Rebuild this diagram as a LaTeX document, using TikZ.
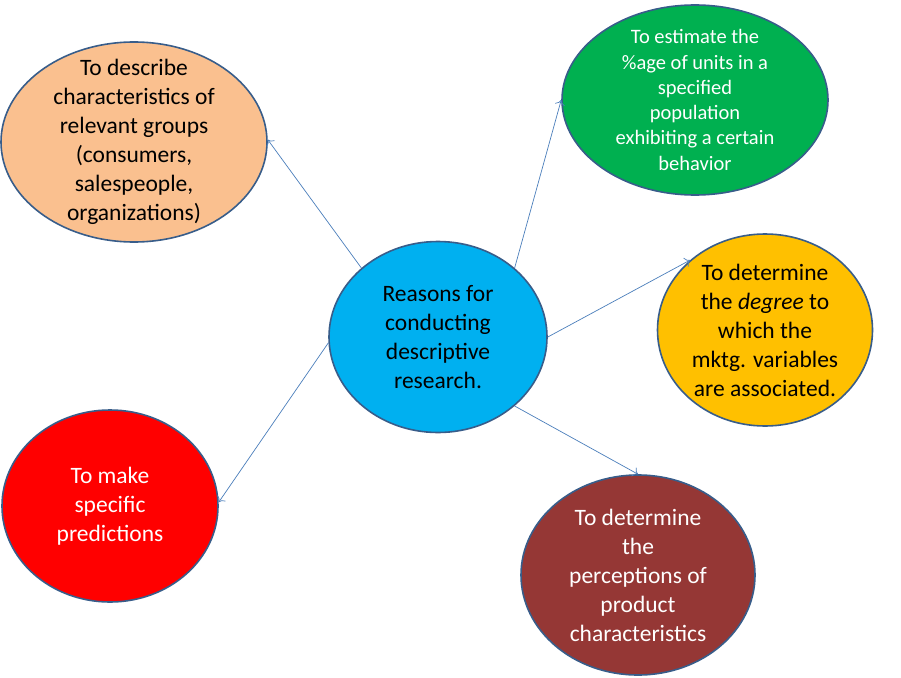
\documentclass[tikz,border=0pt]{standalone}
\usepackage{fontspec}
\setmainfont{Carlito}
\usetikzlibrary{shapes.geometric,arrows.meta}
\definecolor{rim}{RGB}{56,93,138}
\definecolor{linkblue}{RGB}{74,126,187}
\definecolor{skyblue}{RGB}{0,176,240}
\definecolor{peach}{RGB}{250,192,143}
\definecolor{leaf}{RGB}{0,176,80}
\definecolor{amber}{RGB}{255,192,0}
\definecolor{brick}{RGB}{149,55,53}

\begin{document}
\begin{tikzpicture}[x=1pt,y=-1pt,every text node part/.style={align=center},
bubble/.style={ellipse,draw=rim,line width=1.6pt,inner sep=-50pt,font=\fontsize{23.5}{29}\selectfont},
link/.style={draw=linkblue,line width=0.7pt,-{To[length=5pt,width=10pt]}}]
\fill[white] (0,0) rectangle (901,677);
\useasboundingbox (0,0) rectangle (901,677);
\node [bubble,fill=skyblue,minimum width=218pt,minimum height=191pt] (reasons) at (438,337) {Reasons for\\conducting\\descriptive\\research.};
\node [bubble,fill=peach,minimum width=266pt,minimum height=200pt] (groups) at (134,142) {To describe\\characteristics of\\relevant groups\\(consumers,\\salespeople,\\organizations)};
\node [bubble,fill=leaf,text=white,minimum width=266pt,minimum height=190pt,font=\fontsize{20.5}{25.3}\selectfont] (estimate) at (695,100) {To estimate the\\\%age of units in a\\specified\\population\\exhibiting a certain\\behavior};
\node [bubble,fill=amber,minimum width=215pt,minimum height=192pt] (degree) at (765,330) {To determine\\the \textit{degree} to\\which the\\mktg. variables\\are associated.};
\node [bubble,fill=red,text=white,minimum width=216pt,minimum height=192pt] (predict) at (110,506) {To make\\specific\\predictions};
\node [bubble,fill=brick,text=white,minimum width=234pt,minimum height=200pt] (percept) at (638,575) {To determine\\the\\perceptions of\\product\\characteristics};
% connectors
\draw[link] (reasons.138) -- (groups.1);
\draw[link] (reasons.42) -- (estimate.180);
\draw[link] (reasons.0) -- (degree.137);
\draw[link] (reasons.-42) -- (percept.90);
\draw[link] (reasons.183) -- (predict.2);
\end{tikzpicture}
\end{document}
